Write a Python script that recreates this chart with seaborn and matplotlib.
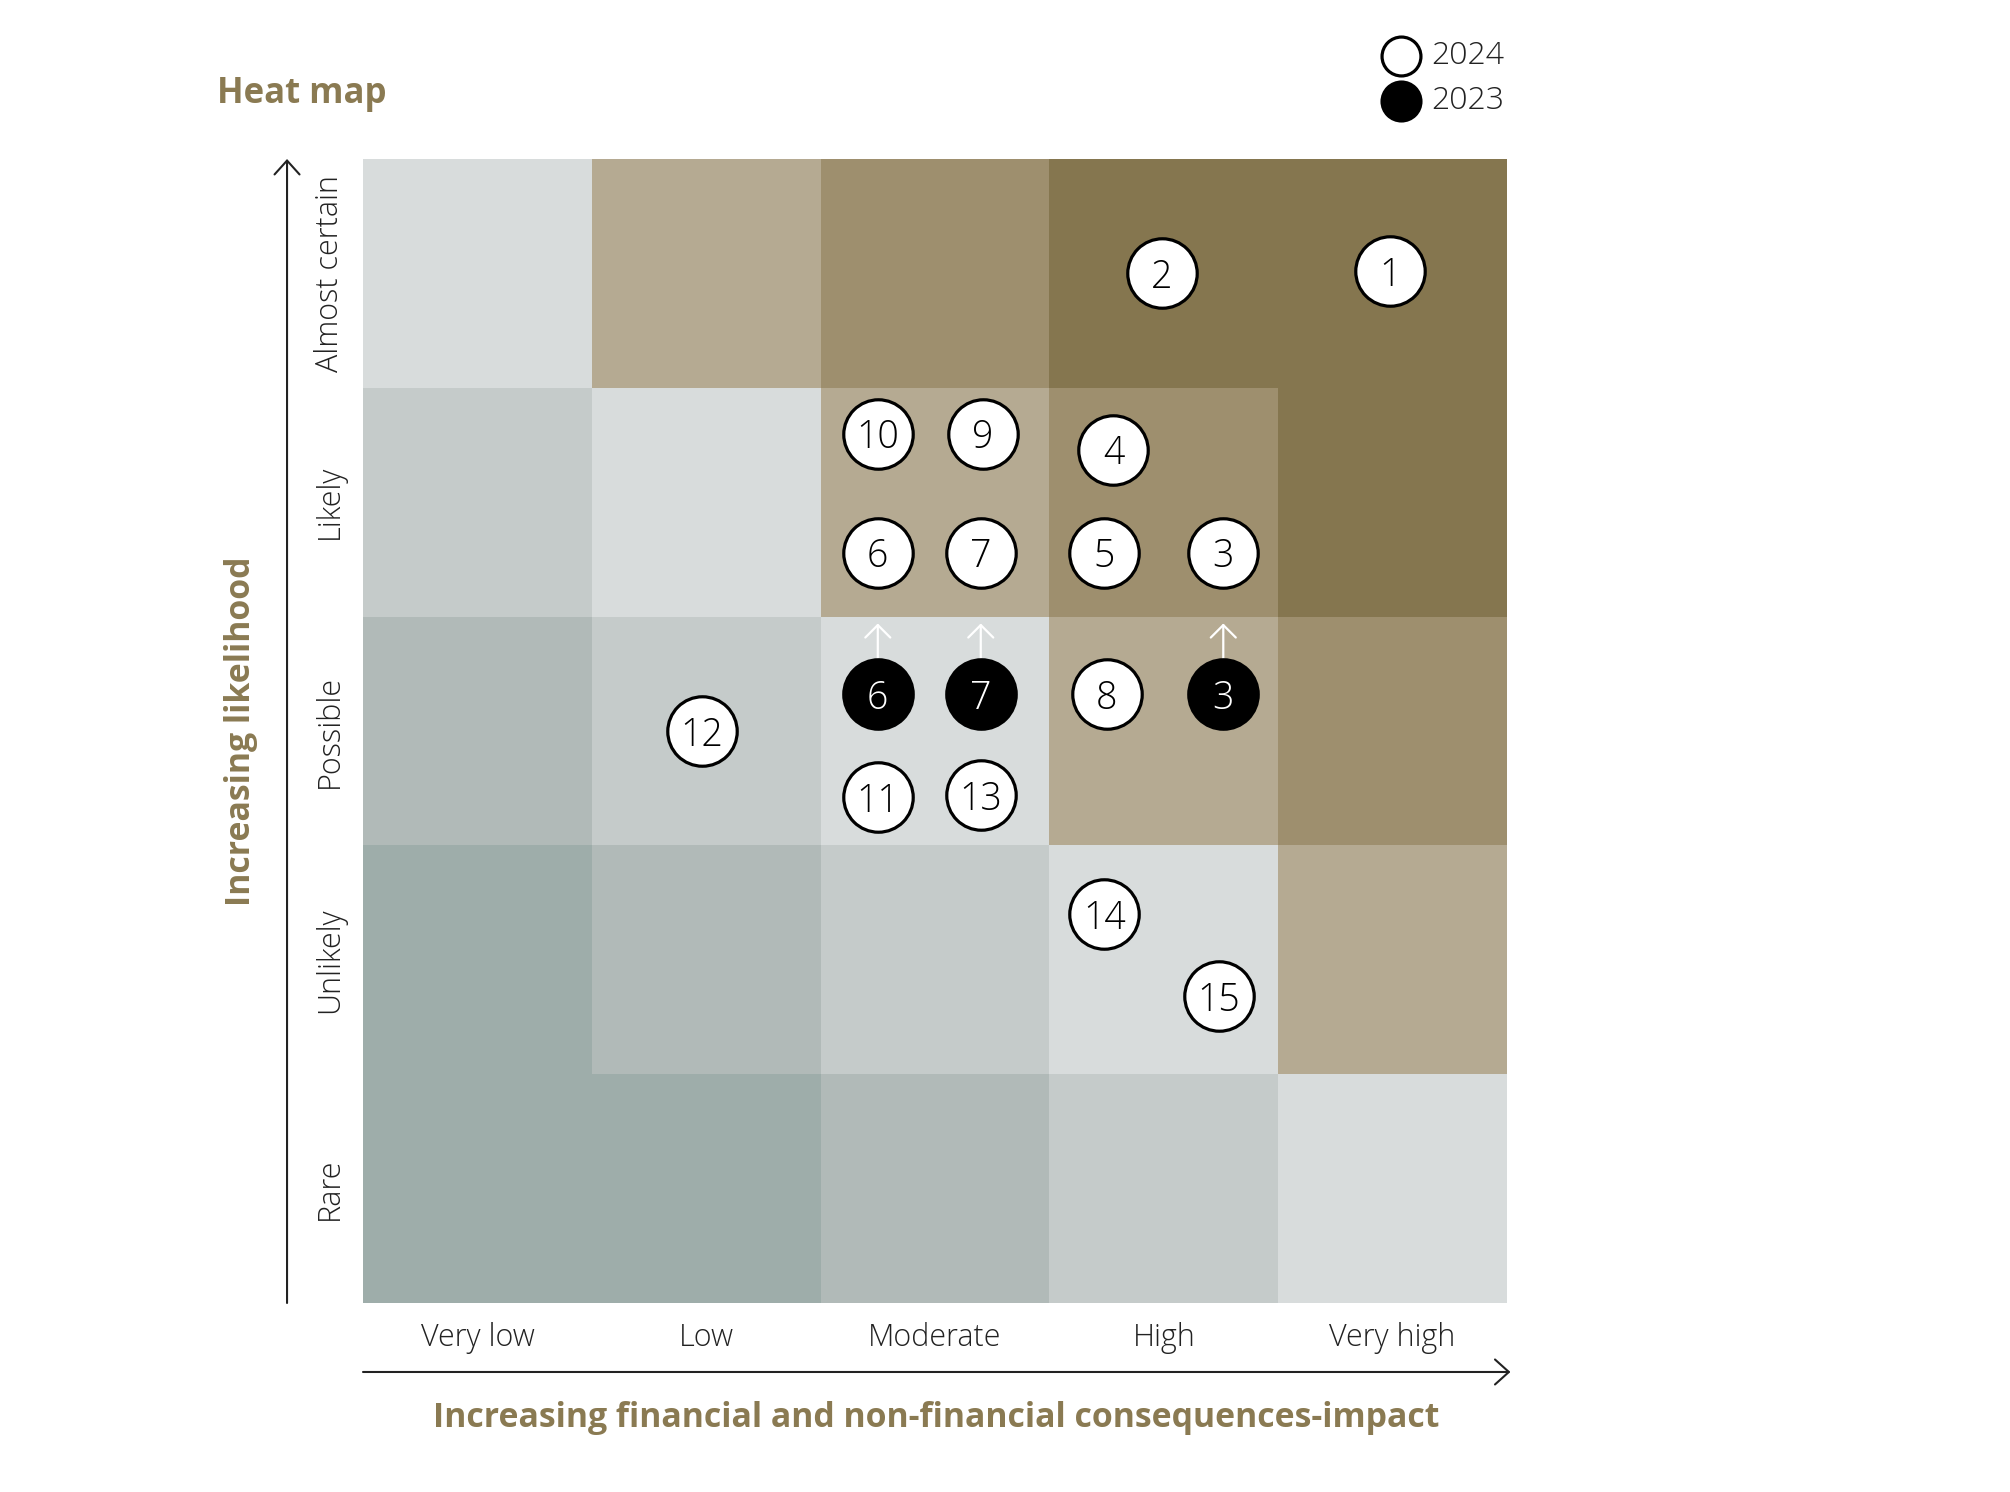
import numpy as np
import pandas as pd
import matplotlib
matplotlib.use('Agg')
import matplotlib.pyplot as plt
from matplotlib.colors import ListedColormap
import seaborn as sns

# Axis categories
impact_labels = ['Very low', 'Low', 'Moderate', 'High', 'Very high']
likelihood_labels = ['Rare', 'Unlikely', 'Possible', 'Likely', 'Almost certain']

# Heat level of each cell, rows from Rare (bottom) to Almost certain (top)
heat_levels = [
    [-3, -3, -2, -1, 0],
    [-3, -2, -1, 0, 1],
    [-2, -1, 0, 1, 2],
    [-1, 0, 1, 2, 3],
    [0, 1, 2, 3, 3],
]
level_colors = ['#9eadaa', '#b1bab8', '#c5cbca', '#d8dcdc',
                '#b5aa92', '#9e8f6e', '#85764f']

# Risk positions in grid units (x: impact, y: likelihood)
risk_2024_ids = [1, 2, 10, 9, 4, 6, 7, 5, 3, 8, 12, 11, 13, 14, 15]
risk_2024_x = [4.49, 3.49, 2.25, 2.71, 3.28, 2.25, 2.70, 3.24, 3.76,
               3.25, 1.48, 2.25, 2.70, 3.24, 3.74]
risk_2024_y = [4.51, 4.50, 3.80, 3.80, 3.73, 3.28, 3.28, 3.28, 3.28,
               2.66, 2.50, 2.21, 2.22, 1.70, 1.34]

risk_2023_ids = [6, 7, 3]
risk_2023_x = [2.25, 2.70, 3.76]
risk_2023_y = [2.66, 2.66, 2.66]

# Short movement arrows above the 2023 circles
arrow_tail_y = 2.81
arrow_head_y = 2.97

olive = '#8a7a52'
ink = '#222222'

sns.set_theme(style='white')
plt.rcParams['font.family'] = ['Open Sans', 'DejaVu Sans']

fig = plt.figure(figsize=(20.1, 14.92), dpi=100)
ax = fig.add_axes([363 / 2010, 1 - 1303 / 1492, 1144 / 2010, 1144 / 1492])

df_heat = pd.DataFrame(heat_levels, index=likelihood_labels, columns=impact_labels)
sns.heatmap(df_heat, cmap=ListedColormap(level_colors), vmin=-3.5, vmax=3.5,
            cbar=False, ax=ax, xticklabels=impact_labels,
            yticklabels=likelihood_labels)
ax.set_xlim(0, 5)
ax.set_ylim(0, 5)
ax.set_xlabel('')
ax.set_ylabel('')
ax.tick_params(axis='x', length=0, pad=14, labelsize=22, colors=ink)
ax.tick_params(axis='y', length=0, pad=12, labelsize=22, colors=ink)
plt.setp(ax.get_yticklabels(), rotation=90, va='center', fontweight='light')
plt.setp(ax.get_xticklabels(), rotation=0, fontweight='light')
for sp in ax.spines.values():
    sp.set_visible(False)

# Circles
sns.scatterplot(x=risk_2024_x, y=risk_2024_y, s=2500, color='white',
                edgecolor='black', linewidth=2.3, ax=ax, zorder=3,
                label='2024', clip_on=False)
sns.scatterplot(x=risk_2023_x, y=risk_2023_y, s=2500, color='black',
                edgecolor='black', linewidth=2.3, ax=ax, zorder=3,
                label='2023', clip_on=False)

for rid, x, y in zip(risk_2024_ids, risk_2024_x, risk_2024_y):
    ax.text(x, y, str(rid), ha='center', va='center_baseline', fontsize=27,
            color='black', zorder=4, fontweight='light')
for rid, x, y in zip(risk_2023_ids, risk_2023_x, risk_2023_y):
    ax.text(x, y, str(rid), ha='center', va='center_baseline', fontsize=27,
            color='white', zorder=4, fontweight='light')

for x in risk_2023_x:
    ax.annotate('', xy=(x, arrow_head_y), xytext=(x, arrow_tail_y),
                arrowprops=dict(arrowstyle='->,head_length=0.45,head_width=0.45',
                                color='white', lw=1.6, mutation_scale=20,
                                shrinkA=0, shrinkB=0), zorder=2)

# Axis arrows
ax.annotate('', xy=(-0.0664, 1.0), xytext=(-0.0664, 0.0),
            xycoords='axes fraction', textcoords='axes fraction',
            arrowprops=dict(arrowstyle='->,head_length=0.5,head_width=0.45',
                            color=ink, lw=1.5, mutation_scale=20,
                            shrinkA=0, shrinkB=0), annotation_clip=False)
ax.annotate('', xy=(1.003, -0.0603), xytext=(0.0, -0.0603),
            xycoords='axes fraction', textcoords='axes fraction',
            arrowprops=dict(arrowstyle='->,head_length=0.5,head_width=0.45',
                            color=ink, lw=1.5, mutation_scale=20,
                            shrinkA=0, shrinkB=0), annotation_clip=False)

# Titles
fig.text(217 / 2010, 1 - 94 / 1492, 'Heat map', fontsize=25, fontweight='bold',
         color=olive, ha='left', va='center')
fig.text(241 / 2010, 1 - 731 / 1492, 'Increasing likelihood', fontsize=24.4,
         fontweight='bold', color=olive, rotation=90, ha='center', va='center')
fig.text(936 / 2010, 1 - 1418 / 1492,
         'Increasing financial and non-financial consequences-impact',
         fontsize=24.4, fontweight='bold', color=olive, ha='center', va='center')

# Legend
leg_handles, leg_labels = ax.get_legend_handles_labels()
ax.legend_.remove()
fig.legend(leg_handles, leg_labels, loc='upper right',
           bbox_to_anchor=(1520 / 2010, 1 - 24 / 1492), frameon=False,
           markerscale=0.56, handletextpad=0.3,
           labelspacing=0.42, borderpad=0, handlelength=1.3,
           labelcolor=ink, prop={'weight': 'light', 'size': 23})

fig.savefig('out.png', dpi=100, facecolor='white')
